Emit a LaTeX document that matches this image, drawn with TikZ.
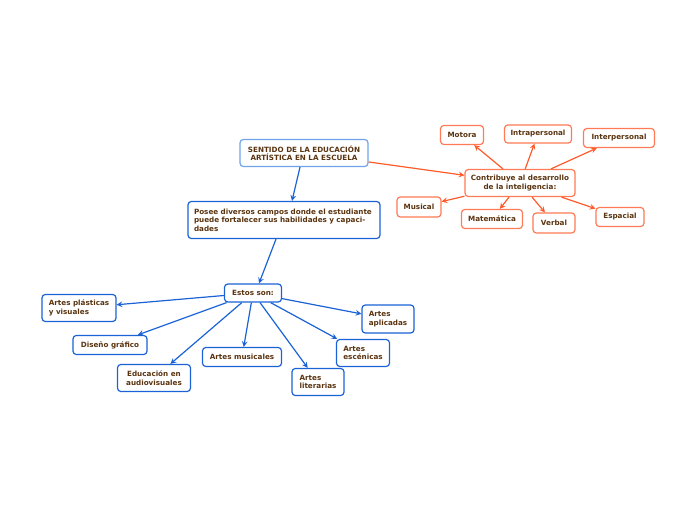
\documentclass[tikz,border=0pt]{standalone}
\usepackage{fontspec}
\setmainfont{DejaVu Sans}
\definecolor{txt}{HTML}{5A3410}
\definecolor{bl}{HTML}{1A62D6}
\definecolor{lbl}{HTML}{6FA3EA}
\definecolor{org}{HTML}{FF5A2A}
\definecolor{orb}{HTML}{FF7A55}
\begin{document}
\begin{tikzpicture}[x=0.75pt,y=-0.75pt,
 box/.style={draw=bl,fill=white,rounded corners=2.5pt,line width=0.9pt,text=txt,font=\fontsize{5.4}{6.4}\selectfont\bfseries,inner sep=2pt},
 obox/.style={box,draw=orb},
 bar/.style={draw=bl,line width=0.9pt,-stealth},
 oar/.style={draw=org,line width=0.9pt,-stealth}]
\useasboundingbox (0,0) rectangle (697,520);
\node[box,draw=lbl,minimum width=128*0.75pt,minimum height=27*0.75pt,align=center] (main) at (304,153) {SENTIDO DE LA EDUCACIÓN\\ARTÍSTICA EN LA ESCUELA};
\node[box,minimum width=192*0.75pt,minimum height=37*0.75pt,align=left,text width=180*0.75pt] (posee) at (284,220) {Posee diversos campos donde el estudiante puede fortalecer sus habilidades y capacidades};
\node[box,minimum width=57*0.75pt,minimum height=18*0.75pt] (estos) at (253,293) {Estos son:};
\node[box,minimum width=74*0.75pt,minimum height=27*0.75pt,align=left] (pl) at (79,308) {Artes plásticas\\ y visuales};
\node[box,minimum width=74*0.75pt,minimum height=19*0.75pt] (dg) at (110,345) {Diseño gráfico};
\node[box,minimum width=73*0.75pt,minimum height=27*0.75pt,align=center] (ed) at (154,378) {Educación en\\ audiovisuales};
\node[box,minimum width=79*0.75pt,minimum height=19*0.75pt] (mu) at (242,357) {Artes musicales};
\node[box,minimum width=52*0.75pt,minimum height=27*0.75pt,align=left] (li) at (318,382) {Artes\\literarias};
\node[box,minimum width=53*0.75pt,minimum height=27*0.75pt,align=left] (es) at (363,353) {Artes\\escénicas};
\node[box,minimum width=52*0.75pt,minimum height=28*0.75pt,align=left] (ap) at (388,319) {Artes\\aplicadas};
\node[obox,minimum width=110*0.75pt,minimum height=27*0.75pt,align=center] (co) at (520,183) {Contribuye al desarrollo\\de la inteligencia:};
\node[obox,minimum width=43*0.75pt,minimum height=19*0.75pt] (mo) at (462,135) {Motora};
\node[obox,minimum width=67*0.75pt,minimum height=18*0.75pt] (ia) at (538,134) {Intrapersonal};
\node[obox,minimum width=71*0.75pt,minimum height=19*0.75pt] (ie) at (619,138) {Interpersonal};
\node[obox,minimum width=44*0.75pt,minimum height=20*0.75pt] (ms) at (419,207) {Musical};
\node[obox,minimum width=61*0.75pt,minimum height=19*0.75pt] (ma) at (492,219) {Matemática};
\node[obox,minimum width=42*0.75pt,minimum height=20*0.75pt] (ve) at (554,223) {Verbal};
\node[obox,minimum width=48*0.75pt,minimum height=19*0.75pt] (ep) at (620,217) {Espacial};
\draw[bar] (main.south)++(-4,0) -- (posee.north -| 292,0);
\draw[bar] (posee.south)++(-8,0) -- (estos.north -| 259,0);
\draw[bar] (estos) -- (pl);
\draw[bar] (estos) -- (dg);
\draw[bar] (estos) -- (ed);
\draw[bar] (estos) -- (mu);
\draw[bar] (estos) -- (li);
\draw[bar] (estos) -- (es);
\draw[bar] (estos) -- (ap);
\draw[oar] (main) -- (co);
\draw[oar] (co) -- (mo);
\draw[oar] (co) -- (ia);
\draw[oar] (co) -- (ie);
\draw[oar] (co) -- (ms);
\draw[oar] (co) -- (ma);
\draw[oar] (co) -- (ve);
\draw[oar] (co) -- (ep);
\end{tikzpicture}
\end{document}
